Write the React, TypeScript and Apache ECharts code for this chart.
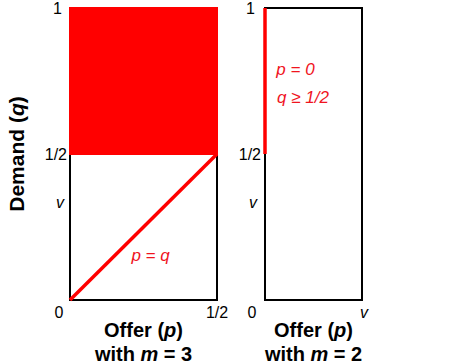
import React, { useEffect, useRef } from 'react';
import * as echarts from 'echarts';

// ---- data ----
const V = 1 / 3;
const leftXTicks = [0, 0.5];
const leftXLabels = ['0', '1/2'];
const rightXTicks = [0, V];
const rightXLabels = ['0', 'v'];
const yTicks = [V, 0.5, 1];
const yLabels = ['v', '1/2', '1'];
const regionP = [0, 0.5];
const regionQ = [0.5, 1];
const diagonalPQ = [[0, 0], [0.5, 0.5]];
const rightSegment = [[0, 0.5], [0, 1]];
const leftNotes = [{ p: 0.274, q: 0.151, text: 'p = q' }];
const rightNotes = [
  { p: 0.1048, q: 0.791, text: 'p = 0' },
  { p: 0.1306, q: 0.692, text: 'q ≥ 1/2' },
];

const FONT = '"Liberation Sans", Arial, Helvetica, sans-serif';
const RED = '#ff0000';

function lookup(ticks: number[], labels: string[], keys: string[], value: number) {
  const i = ticks.findIndex((t) => Math.abs(t - value) < 1e-6);
  if (i < 0) return '';
  return `{${keys[i]}|${labels[i]}}`;
}

const tickBase = { fontSize: 16, fontFamily: FONT, color: '#000' };

const makeNameStyle = (size: number) => ({
  fontSize: size,
  fontWeight: 'bold' as const,
  fontFamily: FONT,
  color: '#000',
  lineHeight: 24,
  rich: {
    i: { fontSize: size, fontWeight: 'bold', fontStyle: 'italic', fontFamily: FONT, color: '#000', lineHeight: 24 },
  },
});

const noteLabel = {
  show: true,
  position: 'inside',
  formatter: (p: any) => p.name,
  fontSize: 17,
  fontStyle: 'italic',
  fontFamily: FONT,
  color: '#f0141e',
};

export default function App() {
  const ref = useRef<HTMLDivElement>(null);
  useEffect(() => {
    if (!ref.current) return;
    const chart = echarts.init(ref.current, undefined, { renderer: 'svg' });
    const grids = [
      { left: 70, top: 8, width: 147, height: 292 },
      { left: 265, top: 8, width: 97, height: 292 },
    ].map((g) => ({
      ...g,
      show: true,
      containLabel: false,
      outerBoundsMode: 'none',
      borderColor: '#000',
      borderWidth: 2,
      backgroundColor: 'transparent',
    }));

    const yAxisBase = (gridIndex: number, keys: string[], rich: any, margin: number, withName: boolean) => ({
      type: 'value',
      gridIndex,
      min: 0,
      max: 1,
      axisLine: { show: false },
      axisTick: { show: false },
      splitLine: { show: false },
      axisLabel: {
        customValues: yTicks,
        margin,
        ...tickBase,
        formatter: (v: number) => lookup(yTicks, yLabels, keys, v),
        rich,
      },
      name: withName ? 'Demand ({i|q})' : '',
      nameLocation: 'middle',
      nameRotate: 90,
      nameGap: 42,
      nameMoveOverlap: false,
      nameTextStyle: makeNameStyle(21),
    });

    const option: any = {
      animation: false,
      grid: grids,
      xAxis: [
        {
          type: 'value',
          gridIndex: 0,
          min: 0,
          max: 0.5,
          axisLine: { show: false },
          axisTick: { show: false },
          splitLine: { show: false },
          axisLabel: {
            customValues: leftXTicks,
            margin: 4,
            ...tickBase,
            formatter: (v: number) => lookup(leftXTicks, leftXLabels, ['z', 'h'], v),
            rich: {
              z: { ...tickBase, padding: [0, 22, 0, 0] },
              h: { ...tickBase, padding: [0, 0, 0, 0] },
            },
          },
          name: 'Offer ({i|p})\nwith {i|m} = 3',
          nameLocation: 'middle',
          nameGap: 18,
          nameMoveOverlap: false,
          nameTextStyle: makeNameStyle(20),
        },
        {
          type: 'value',
          gridIndex: 1,
          min: 0,
          max: V,
          axisLine: { show: false },
          axisTick: { show: false },
          splitLine: { show: false },
          axisLabel: {
            customValues: rightXTicks,
            margin: 4,
            ...tickBase,
            formatter: (v: number) => lookup(rightXTicks, rightXLabels, ['z', 'v'], v),
            rich: {
              z: { ...tickBase, padding: [0, 26, 0, 0] },
              v: { ...tickBase, fontStyle: 'italic', padding: [0, 0, 0, 4] },
            },
          },
          name: 'Offer ({i|p})\nwith {i|m} = 2',
          nameLocation: 'middle',
          nameGap: 18,
          nameMoveOverlap: false,
          nameTextStyle: makeNameStyle(20),
        },
      ],
      yAxis: [
        yAxisBase(0, ['v', 'h', 'one'], {
          v: { ...tickBase, fontStyle: 'italic', padding: [0, 3, 0, 0] },
          h: { ...tickBase },
          one: { ...tickBase, padding: [0, 5, 0, 0] },
        }, 3, true),
        yAxisBase(1, ['v', 'h', 'one'], {
          v: { ...tickBase, fontStyle: 'italic', padding: [0, 4, 0, 0] },
          h: { ...tickBase },
          one: { ...tickBase, padding: [0, 6, 0, 0] },
        }, 4, false),
      ],
      series: [
        {
          type: 'line',
          xAxisIndex: 0,
          yAxisIndex: 0,
          data: diagonalPQ,
          symbol: 'none',
          lineStyle: { color: RED, width: 3.5 },
          markArea: {
            silent: true,
            itemStyle: { color: RED, borderColor: RED, borderWidth: 2, opacity: 1 },
            data: [[{ coord: [regionP[0], regionQ[0]] }, { coord: [regionP[1], regionQ[1]] }]],
          },
          z: 3,
        },
        {
          type: 'line',
          xAxisIndex: 1,
          yAxisIndex: 1,
          data: rightSegment,
          symbol: 'none',
          lineStyle: { color: RED, width: 3.5 },
          z: 3,
        },
        {
          type: 'scatter',
          xAxisIndex: 0,
          yAxisIndex: 0,
          symbolSize: 0,
          itemStyle: { opacity: 1 },
          data: leftNotes.map((n) => ({ value: [n.p, n.q], name: n.text })),
          label: noteLabel,
        },
        {
          type: 'scatter',
          xAxisIndex: 1,
          yAxisIndex: 1,
          symbolSize: 0,
          itemStyle: { opacity: 1 },
          data: rightNotes.map((n) => ({ value: [n.p, n.q], name: n.text })),
          label: noteLabel,
        },
      ],
    };
    chart.setOption(option);
    return () => chart.dispose();
  }, []);
  return (
    <div
      ref={ref}
      style={{ position: 'fixed', left: 0, top: 0, width: 474, height: 364, background: '#fff' }}
    />
  );
}
